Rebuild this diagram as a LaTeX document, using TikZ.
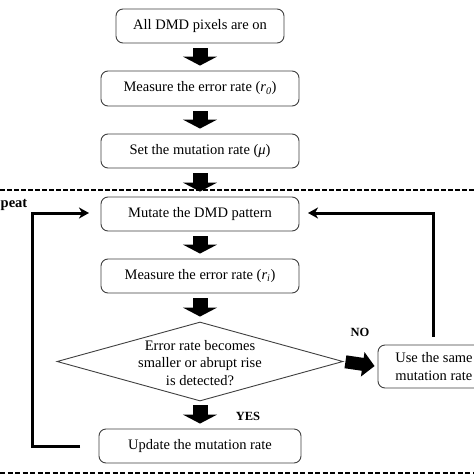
\documentclass[tikz,border=0pt]{standalone}
\usepackage{fontspec}
\setmainfont{Liberation Serif}
\usetikzlibrary{shapes.geometric,arrows.meta}
\begin{document}
\begin{tikzpicture}[x=1pt,y=-1pt,
  box/.style={draw=black!75,line width=0.9pt,rounded corners=7pt,inner sep=0pt,
    font=\fontsize{14.5}{17.5}\selectfont,align=center},
  bigarrow/.style={line width=15pt,-{Triangle[width=34pt,length=9pt]},shorten <=5pt,shorten >=5pt},
  sidearrow/.style={line width=13pt,-{Triangle[width=24pt,length=12pt]},shorten <=2pt,shorten >=3pt},
  loopline/.style={line width=3pt,-{Stealth[length=10pt,width=11pt,inset=3pt]}},
  sepline/.style={line width=2pt,dash pattern=on 5pt off 2pt},
  lbl/.style={font=\fontsize{12.5}{14}\selectfont\bfseries,inner sep=0pt}]
\clip (0,0) rectangle (474,474);
\fill[white] (0,0) rectangle (474,474);
% separators
\coordinate (sl) at (0,190);
\coordinate (sr) at (474,190);
\draw[sepline] (sl) -- (sr);
\coordinate (bl) at (0,473);
\coordinate (br) at (474,473);
\draw[sepline,line width=3pt,dash pattern=on 5pt off 2.5pt] (bl) -- (br);
% boxes
\node[box,minimum width=168pt,minimum height=34pt] (b1) at (200,26) {All DMD pixels are on};
\node[box,minimum width=198pt,minimum height=35pt] (b2) at (200,88.5) {Measure the error rate (\textit{r}\textsubscript{\textit{0}})};
\node[box,minimum width=198pt,minimum height=34pt] (b3) at (200,151) {Set the mutation rate (\textit{μ})};
\node[box,minimum width=198pt,minimum height=34pt] (b4) at (200,214) {Mutate the DMD pattern};
\node[box,minimum width=198pt,minimum height=34pt] (b5) at (200,276) {Measure the error rate (\textit{r}\textsubscript{\textit{i}})};
\node[draw=black!75,line width=0.9pt,diamond,minimum width=286pt,minimum height=79pt,inner sep=0pt] (d) at (200,361.5) {};
\node[font=\fontsize{14.5}{17.5}\selectfont,align=center,inner sep=0pt] (dt) at (200,363) {Error rate becomes\\smaller or abrupt rise\\is detected?};
\node[box,minimum width=202pt,minimum height=34pt] (b6) at (200,446) {Update the mutation rate};
\node[box,minimum width=112pt,minimum height=43pt,align=left,font=\fontsize{14.5}{18}\selectfont] (u) at (434,366.5) {Use the same\\mutation rate};
% block arrows
\draw[bigarrow] (b1) -- (b2);
\draw[bigarrow] (b2) -- (b3);
\draw[bigarrow] (b3.south) -- (b4.north);
\draw[bigarrow] (b4) -- (b5);
\draw[bigarrow] (b5.south) -- (d.north);
\draw[bigarrow,shorten <=4pt] (d.south) -- (b6.north);
\draw[sidearrow] (d.east) -- (u.west);
% labels
\node[lbl,anchor=base] (no) at (360,336) {NO};
\node[lbl,anchor=base] (yes) at (248,420) {YES};
\node[lbl,font=\fontsize{14.5}{16}\selectfont\bfseries,anchor=base east] (rep) at (27.5,207) {peat};
% loops
\coordinate (lt) at (32.5,213);
\coordinate (lb) at (32.5,446);
\coordinate (lbe) at (80,446);
\coordinate (lte) at (89,213);
\draw[loopline] (lbe) -- (lb) -- (lt) -- (lte);
\coordinate (rt) at (433,213);
\coordinate (rte) at (308,213);
\draw[loopline] (u.north -| rt) ++(0,-8) -- (rt) -- (rte);
\end{tikzpicture}
\end{document}
